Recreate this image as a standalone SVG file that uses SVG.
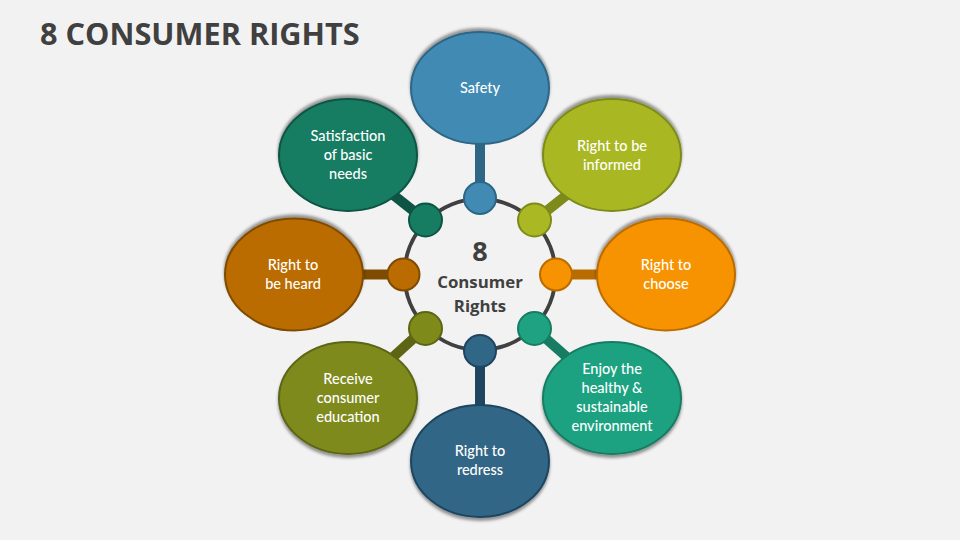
<svg xmlns="http://www.w3.org/2000/svg" width="960" height="540" viewBox="0 0 960 540">
<style>
.t{font-family:"Lato","Open Sans",sans-serif;font-size:14.5px;font-weight:500;fill:#fff;text-anchor:middle}
.c{font-family:"Open Sans","Liberation Sans",sans-serif;font-weight:700;fill:#404040;text-anchor:middle}
.e{stroke-width:2}
.d{stroke-width:2}
.l{stroke-width:10;fill:none}
</style>
<defs>
<filter id="up" x="-20%" y="-20%" width="140%" height="140%"><feDropShadow dx="0" dy="-3" stdDeviation="1.6" flood-color="#000" flood-opacity=".4"/></filter>
<filter id="dn" x="-20%" y="-20%" width="140%" height="140%"><feDropShadow dx="0" dy="3" stdDeviation="1.6" flood-color="#000" flood-opacity=".4"/></filter>
</defs>
<rect width="960" height="540" fill="#f2f2f2"/>
<text class="c" x="40" y="45" style="text-anchor:start;font-size:30.7px">8 CONSUMER RIGHTS</text>
<g id="connectors">
<circle cx="480" cy="274.5" r="75.5" fill="none" stroke="#404040" stroke-width="4"/>
<line class="l" x1="480" y1="135" x2="480" y2="198" stroke="#2e6686"/>
<line class="l" x1="578" y1="186" x2="534" y2="221" stroke="#7e8a1a"/>
<line class="l" x1="610" y1="274.5" x2="556" y2="274.5" stroke="#ba6c00"/>
<line class="l" x1="578" y1="367" x2="534" y2="328" stroke="#167c62"/>
<line class="l" x1="480" y1="415" x2="480" y2="351" stroke="#1f4560"/>
<line class="l" x1="382" y1="367" x2="425" y2="328" stroke="#5d6514"/>
<line class="l" x1="350" y1="274.5" x2="403" y2="274.5" stroke="#7f4b00"/>
<line class="l" x1="382" y1="186" x2="425" y2="220" stroke="#0e5444"/>
</g>
<g id="node-center"><text class="c" x="480" y="261" style="font-size:27px">8</text><text class="c" x="480" y="288" style="font-size:16.8px">Consumer</text><text class="c" x="480" y="312" style="font-size:16.8px">Rights</text></g>
<g id="node-safety"><ellipse class="e" cx="480" cy="88" rx="69" ry="56" fill="#418ab3" stroke="#2e6686" filter="url(#up)"/><circle class="d" cx="480" cy="198" r="16" fill="#418ab3" stroke="#2e6686"/><text class="t" x="480" y="93">Safety</text></g>
<g id="node-informed"><ellipse class="e" cx="612" cy="155" rx="69" ry="56" fill="#a9b823" stroke="#7e8a1a" filter="url(#up)"/><circle class="d" cx="534.5" cy="220" r="16.5" fill="#a9b823" stroke="#7e8a1a"/><text class="t" x="612" y="151">Right to be</text><text class="t" x="612" y="170">informed</text></g>
<g id="node-choose"><ellipse class="e" cx="666" cy="274.5" rx="69" ry="56" fill="#f79300" stroke="#ba6c00" filter="url(#up)"/><circle class="d" cx="556" cy="274.5" r="16" fill="#f79300" stroke="#ba6c00"/><text class="t" x="666" y="270">Right to</text><text class="t" x="666" y="289">choose</text></g>
<g id="node-environment"><ellipse class="e" cx="612" cy="398" rx="69" ry="56" fill="#1fa281" stroke="#167c62" filter="url(#dn)"/><circle class="d" cx="534.5" cy="328.5" r="16.5" fill="#1fa281" stroke="#167c62"/><text class="t" x="612" y="374">Enjoy the</text><text class="t" x="612" y="393">healthy &amp;</text><text class="t" x="612" y="412">sustainable</text><text class="t" x="612" y="431">environment</text></g>
<g id="node-redress"><ellipse class="e" cx="480" cy="461" rx="69" ry="56" fill="#306686" stroke="#1f4560" filter="url(#dn)"/><circle class="d" cx="480" cy="351" r="16" fill="#306686" stroke="#1f4560"/><text class="t" x="480" y="456">Right to</text><text class="t" x="480" y="475">redress</text></g>
<g id="node-education"><ellipse class="e" cx="348" cy="398" rx="69" ry="56" fill="#7e8a1a" stroke="#5d6514" filter="url(#dn)"/><circle class="d" cx="425.500" cy="328.500" r="16.5" fill="#7e8a1a" stroke="#5d6514"/><text class="t" x="348" y="384">Receive</text><text class="t" x="348" y="403">consumer</text><text class="t" x="348" y="422">education</text></g>
<g id="node-heard"><ellipse class="e" cx="294" cy="274.500" rx="69" ry="56" fill="#ba6c00" stroke="#7f4b00" filter="url(#up)"/><circle class="d" cx="403.500" cy="274.500" r="16" fill="#ba6c00" stroke="#7f4b00"/><text class="t" x="293" y="270">Right to</text><text class="t" x="293" y="289">be heard</text></g>
<g id="node-satisfaction"><ellipse class="e" cx="348" cy="155" rx="69" ry="56" fill="#167c62" stroke="#0e5444" filter="url(#up)"/><circle class="d" cx="425.500" cy="220" r="16.500" fill="#167c62" stroke="#0e5444"/><text class="t" x="348" y="141">Satisfaction</text><text class="t" x="348" y="160">of basic</text><text class="t" x="348" y="179">needs</text></g>
</svg>
